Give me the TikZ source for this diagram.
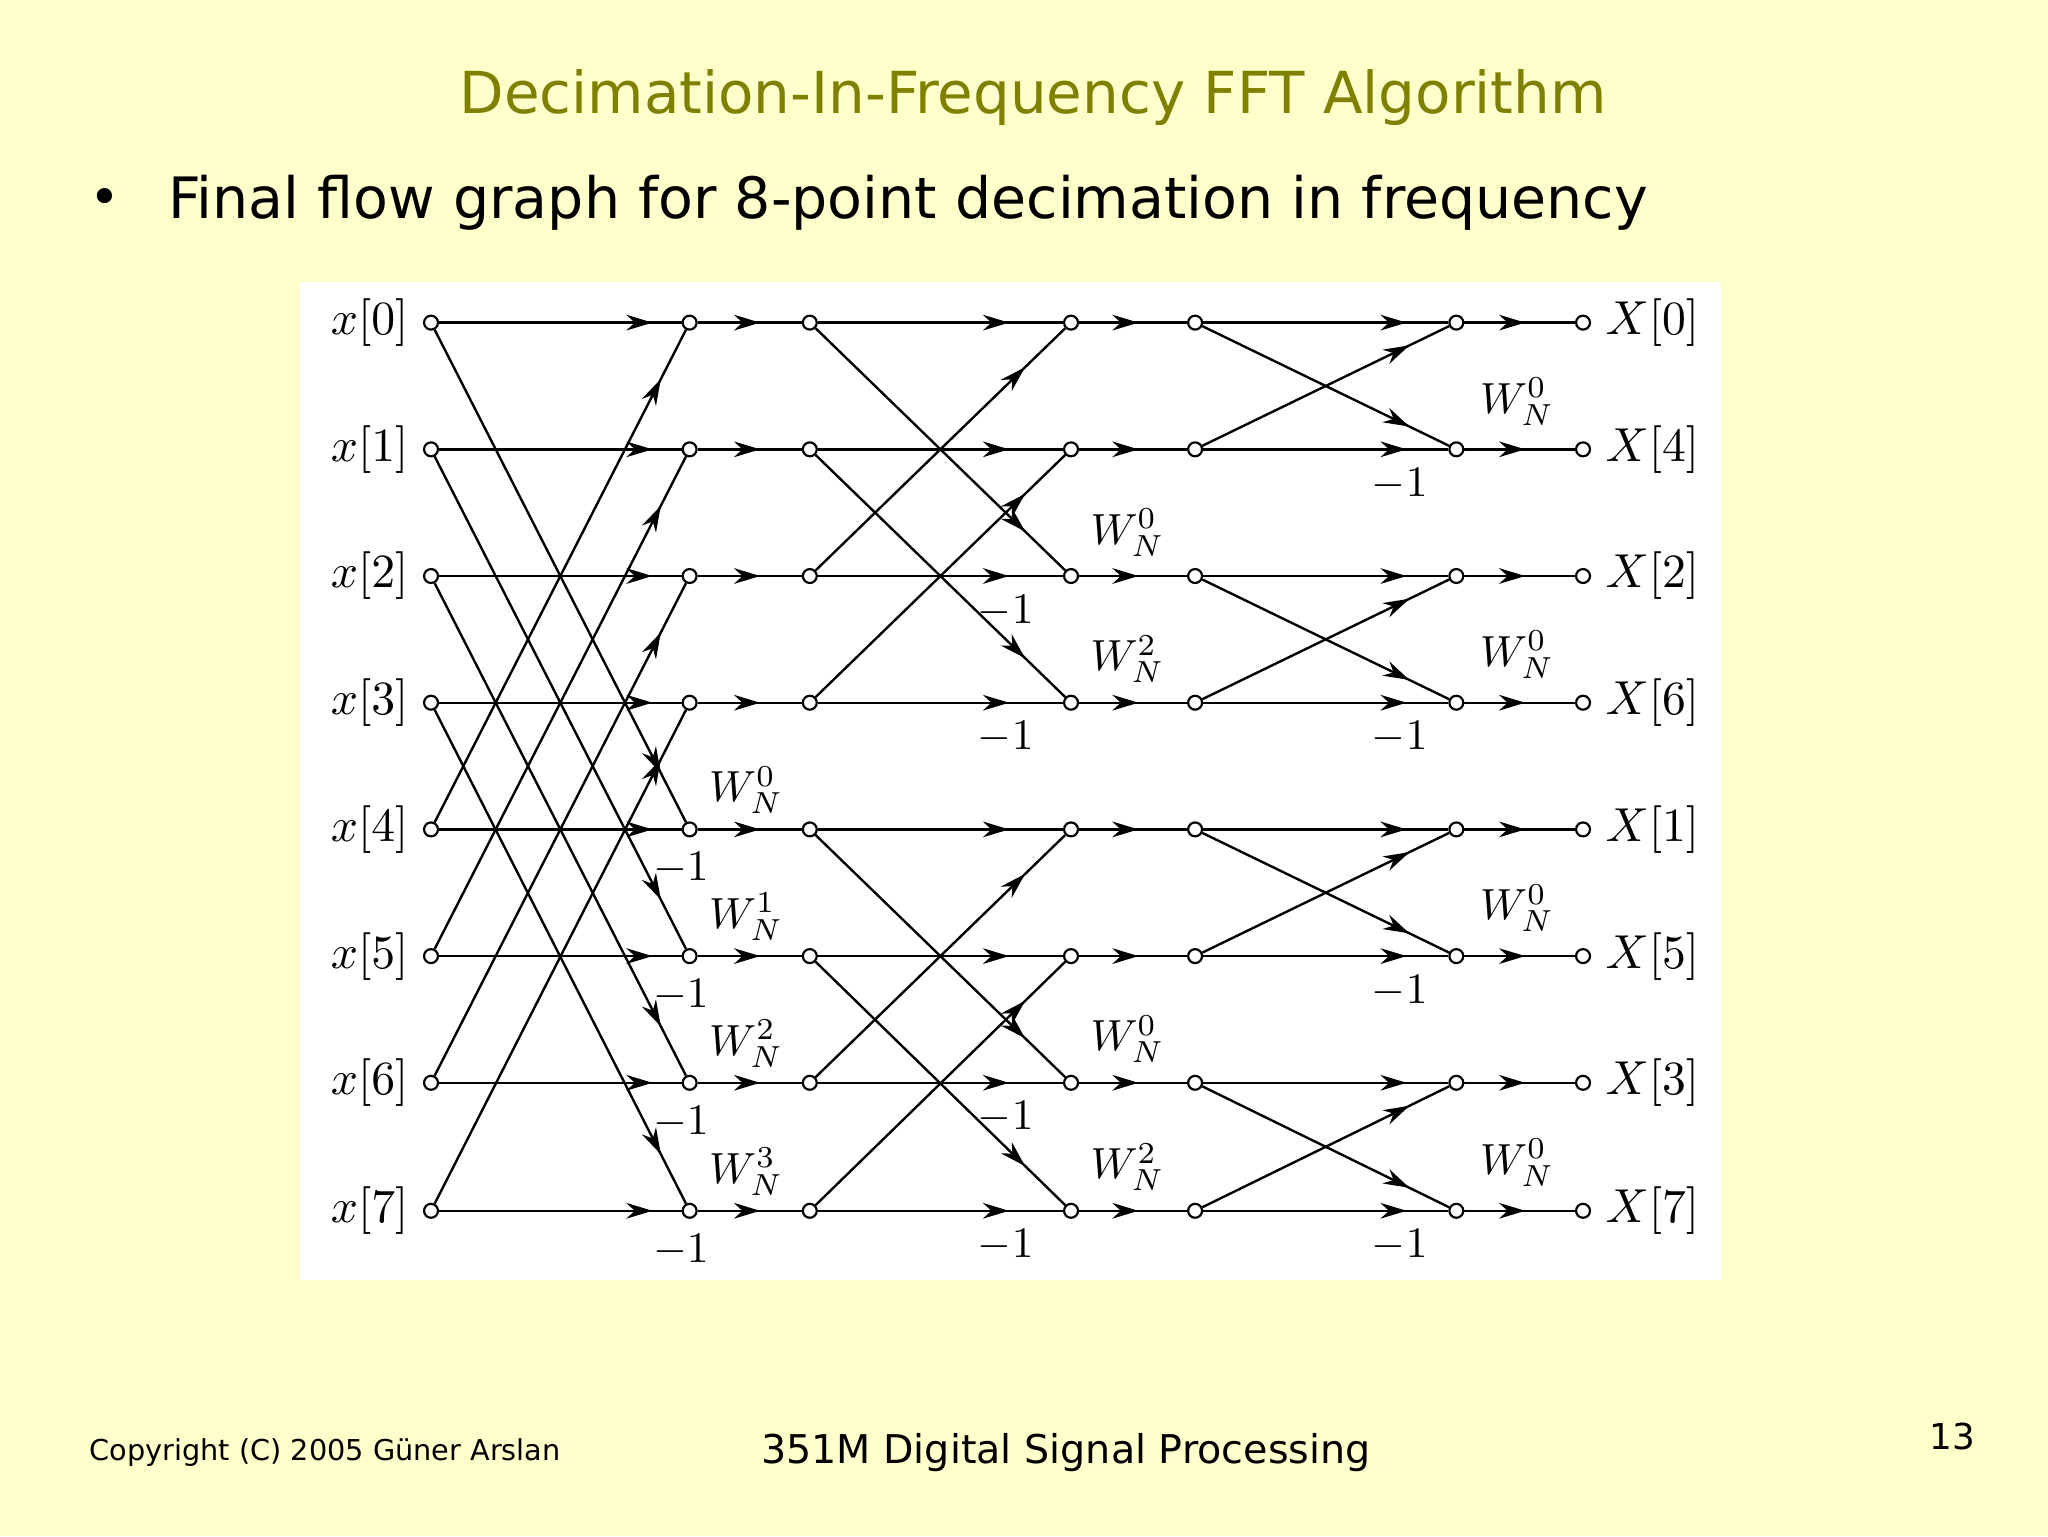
\documentclass[tikz,border=0pt]{standalone}
\usepackage{fontspec}
\setmainfont{DejaVu Sans}
\newfontfamily\tms{Liberation Serif}
\usetikzlibrary{arrows.meta,decorations.markings}
\definecolor{bgy}{RGB}{255,255,204}
\definecolor{olivet}{RGB}{128,128,0}
\tikzset{
 nd/.style={circle,draw,fill=white,inner sep=0pt,minimum size=3.2pt,line width=0.5pt},
 ln/.style={line width=0.55pt},
 arrowat/.style={postaction={decorate},decoration={markings,mark=at position #1 with {\arrow{Stealth[length=6pt,width=3.6pt]}}}},
 lbl/.style={font=\tms\fontsize{11}{12}\selectfont,inner sep=0pt},
 wl/.style={font=\tms\fontsize{10}{12}\selectfont,inner sep=0pt},
}
\begin{document}
\begin{tikzpicture}[x=0.3pt,y=-0.3pt]
\fill[bgy] (0,0) rectangle (1568,1176);
\useasboundingbox (0,0) rectangle (1568,1176);
\fill[white] (230,216) rectangle (1318,980);
\node[text=olivet,font=\fontsize{13.3}{15}\selectfont] (title) at (791,75) {Decimation-In-Frequency FFT Algorithm};
\node[font=\fontsize{12}{14}\selectfont] (bul) at (80,155) {•};
\node[anchor=west,font=\fontsize{13.1}{15}\selectfont,inner sep=0pt] (sub) at (128,155) {Final flow graph for 8-point decimation in frequency};
\node[anchor=west,font=\fontsize{6.6}{8}\selectfont,inner sep=0pt] (copy) at (68,1112) {Copyright (C) 2005 Güner Arslan};
\node[font=\fontsize{9.1}{11}\selectfont] (course) at (816,1112) {351M Digital Signal Processing};
\node[font=\fontsize{8.2}{10}\selectfont] (pg) at (1495,1100) {13};
% nodes
\foreach \i/\y in {0/247,1/344,2/441,3/538,4/635,5/732,6/829,7/927}{
 \foreach \c/\x in {0/330,1/528,2/620,3/820,4/915,5/1115,6/1212}{
  \node[nd] (c\c-\i) at (\x,\y) {};
 }
}
\foreach \i/\n in {0/0,1/1,2/2,3/3,4/4,5/5,6/6,7/7}{
 \node[lbl,anchor=east] (xl\i) at ([xshift=-5pt]c0-\i.center) {$x[\n]$};
}
\foreach \i/\n in {0/0,1/4,2/2,3/6,4/1,5/5,6/3,7/7}{
 \node[lbl,anchor=west] (Xl\i) at ([xshift=5pt]c6-\i.center) {$X[\n]$};
}
\begin{scope}[ln]
\foreach \i in {0,...,7}{
 \draw[arrowat=0.88] (c0-\i) -- (c1-\i);
 \draw[arrowat=0.6] (c1-\i) -- (c2-\i);
 \draw[arrowat=0.78] (c2-\i) -- (c3-\i);
 \draw[arrowat=0.55] (c3-\i) -- (c4-\i);
 \draw[arrowat=0.83] (c4-\i) -- (c5-\i);
 \draw[arrowat=0.55] (c5-\i) -- (c6-\i);
}
\foreach \i in {0,...,3}{
 \pgfmathtruncatemacro\j{\i+4}
 \draw[arrowat=0.9] (c0-\i) -- (c1-\j);
 \draw[arrowat=0.9] (c0-\j) -- (c1-\i);
}
\foreach \a in {0,1,4,5}{
 \pgfmathtruncatemacro\b{\a+2}
 \draw[arrowat=0.84] (c2-\a) -- (c3-\b);
 \draw[arrowat=0.84] (c2-\b) -- (c3-\a);
}
\foreach \a in {0,2,4,6}{
 \pgfmathtruncatemacro\b{\a+1}
 \draw[arrowat=0.84] (c4-\a) -- (c5-\b);
 \draw[arrowat=0.84] (c4-\b) -- (c5-\a);
}
\end{scope}
\foreach \i/\k in {4/0,5/1,6/2,7/3}{
 \node[wl] (w1\i) at ([xshift=13pt,yshift=9pt]c1-\i.center) {$W_N^{\k}$};
 \node[wl] (m1\i) at ([xshift=-2pt,yshift=-9pt]c1-\i.center) {$-1$};
}
\foreach \i/\k in {2/0,3/2,6/0,7/2}{
 \node[wl] (w3\i) at ([xshift=13pt,yshift=10pt]c3-\i.center) {$W_N^{\k}$};
 \node[wl] (m3\i) at ([xshift=-15pt,yshift=-8pt]c3-\i.center) {$-1$};
}
\foreach \i in {1,3,5,7}{
 \node[wl] (w5\i) at ([xshift=14pt,yshift=11pt]c5-\i.center) {$W_N^{0}$};
 \node[wl] (m5\i) at ([xshift=-13pt,yshift=-8pt]c5-\i.center) {$-1$};
}
\end{tikzpicture}
\end{document}
